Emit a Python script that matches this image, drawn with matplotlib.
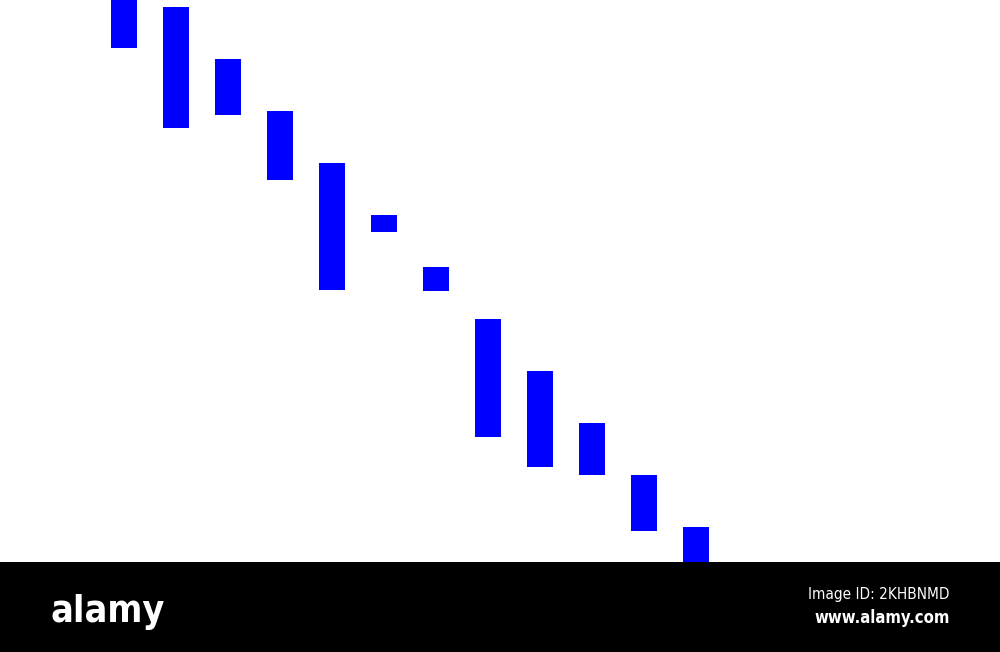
import matplotlib
matplotlib.use("Agg")
import matplotlib.pyplot as plt

# Candle-like bars (values: chart units, higher = up)
categories = list(range(12))
bar_top = [572, 555, 503, 451, 399, 347, 295, 243, 191, 139, 87, 35]
bar_bottom = [514, 434, 447, 382, 272, 330, 271, 125, 95, 87, 31, -10]

BLUE = "#0000FF"

fig = plt.figure(figsize=(10, 6.52), dpi=100)
fig.patch.set_facecolor("white")

ax = fig.add_axes([0, 90 / 652, 1, 562 / 652])
heights = [t - b for t, b in zip(bar_top, bar_bottom)]
ax.bar(categories, heights, bottom=bar_bottom, width=0.5, color=BLUE,
       edgecolor="none", align="center")
ax.set_xlim(-124 / 52, (1000 - 124) / 52)
ax.set_ylim(0, 562)
ax.axis("off")

# Black watermark band
band = fig.add_axes([0, 0, 1, 90 / 652])
band.set_facecolor("black")
band.set_xlim(0, 1000)
band.set_ylim(652, 562)
band.set_xticks([])
band.set_yticks([])
for s in band.spines.values():
    s.set_visible(False)

band.text(50, 622, "alamy", color="white", fontsize=27, fontweight="bold",
          fontstretch="condensed", family="DejaVu Sans", ha="left", va="baseline")
band.text(950, 594, "Image ID: 2KHBNMD", color="white", fontsize=11,
          fontstretch="condensed", family="DejaVu Sans", ha="right", va="center")
band.text(950, 618, "www.alamy.com", color="white", fontsize=12,
          fontweight="bold", fontstretch="condensed", family="DejaVu Sans",
          ha="right", va="center")

fig.savefig("out.png", dpi=100, facecolor="white")
